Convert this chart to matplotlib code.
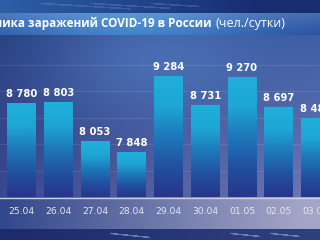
import numpy as np
import matplotlib
matplotlib.use("Agg")
import matplotlib.pyplot as plt
from matplotlib.colors import LinearSegmentedColormap, to_rgb
from matplotlib.patches import Rectangle

# Daily new COVID-19 cases in Russia
dates = ["25.04", "26.04", "27.04", "28.04", "29.04", "30.04", "01.05", "02.05", "03.05"]
cases = [8780, 8803, 8053, 7848, 9284, 8731, 9270, 8697, 8489]
value_labels = ["8 780", "8 803", "8 053", "7 848", "9 284", "8 731", "9 270", "8 697", "8 489"]

title_bold = "Динамика заражений COVID-19 в России"
title_unit = "(чел./сутки)"

W, H = 320, 240
fig = plt.figure(figsize=(W / 100, H / 100), dpi=100)

# ---- background picture ----
def mix(c1, c2, t):
    c1 = np.array(to_rgb(c1)); c2 = np.array(to_rgb(c2))
    return c1 * (1 - t[..., None]) + c2 * t[..., None]

yy, xx = np.mgrid[0:H, 0:W].astype(float)
bg = np.zeros((H, W, 3))

# main chart area
tx = xx / (W - 1)
ty = np.clip((yy - 35) / (197 - 35), 0, 1)
top = mix("#27407e", "#3c5da3", tx)
bot = mix("#3a4890", "#7078b4", tx)
main = top * (1 - ty[..., None]) + bot * ty[..., None]
glow = np.exp(-(((xx - 160) / 110) ** 2 + ((yy - 60) / 60) ** 2))
main = main + glow[..., None] * (np.array(to_rgb("#4f74ba")) - main) * 0.8
bg[:] = main

# title band
band = (yy >= 13) & (yy < 35)
tb = np.exp(-((xx - 130) / 140) ** 2)
band_col = mix("#24499a", "#3f82ca", tb)
vert = np.clip(1 - (yy - 13) / 22, 0, 1)[..., None] * 0.15
band_col = band_col + vert * (1 - band_col)
bg[band] = band_col[band]

# top strip
strip = yy < 13
top_col = mix("#2d5fa8", "#182c70", np.clip(xx / 260, 0, 1))
bg[strip] = top_col[strip]
for x0, x1 in [(40, 130), (90, 170), (150, 200)]:
    seg = strip & (xx >= x0) & (xx < x1) & (np.abs(yy - (3 + (xx - x0) * 0.06)) < 0.8)
    bg[seg] = bg[seg] * 0.75 + np.array(to_rgb("#7fb0e0")) * 0.25

# date label band
lab = (yy >= 197) & (yy < 229)
lab_col = mix("#33478c", "#a3a5c6", np.clip(xx / 300, 0, 1))
bg[lab] = lab_col[lab]

# bottom strip
bs = yy >= 229
bs_col = mix("#1d2a6c", "#30407e", np.clip(xx / W, 0, 1))
bg[bs] = bs_col[bs]
for x0, x1 in [(110, 150), (230, 260), (270, 300)]:
    seg = bs & (xx >= x0) & (xx < x1) & (np.abs(yy - (233 + (xx - x0) * 0.1)) < 0.8)
    bg[seg] = bg[seg] * 0.5 + np.array(to_rgb("#a8c0ee")) * 0.5

bg_ax = fig.add_axes([0, 0, 1, 1])
bg_ax.imshow(np.clip(bg, 0, 1), extent=[0, W, H, 0], aspect="auto", interpolation="bilinear")
bg_ax.set_xlim(0, W); bg_ax.set_ylim(H, 0)
bg_ax.axis("off")

# baseline
bg_ax.plot([0, W], [197.5, 197.5], color="#c9cce2", lw=1.0)

# ---- bar chart ----
step = 36.75
first_center = 21.5
y_base_px, y_top_px = 197, 40
px_per_unit = 76 / 1436
ymin = 7000
ymax = ymin + (y_base_px - y_top_px) / px_per_unit

ax = fig.add_axes([0, (H - y_base_px) / H, 1, (y_base_px - y_top_px) / H])
ax.set_facecolor("none")
ax.axis("off")

for g in [7500, 8000, 8500, 9000, 9500]:
    ax.axhline(g, color="white", alpha=0.10, lw=0.8, zorder=0)

bar_cmap = LinearSegmentedColormap.from_list(
    "bar", ["#27358a", "#2250a0", "#1e78ba", "#1ea6d4", "#20b0da"])
grad = np.linspace(0, 1, 256)[:, None]
width = 29 / step
for i, v in enumerate(cases):
    rect = Rectangle((i - width / 2, ymin), width, v - ymin, facecolor="none", edgecolor="none")
    ax.add_patch(rect)
    im = ax.imshow(grad, cmap=bar_cmap, origin="lower", aspect="auto",
                   extent=[i - width / 2, i + width / 2, ymin, v], zorder=2)
    im.set_clip_path(rect)
    ax.text(i, v + 4 / px_per_unit, value_labels[i], ha="center", va="bottom",
            color="white", fontsize=7.2, fontweight="bold", family="DejaVu Sans", zorder=3)
ax.set_xlim(-first_center / step, (W - first_center) / step)
ax.set_ylim(ymin, ymax)

# date labels
for i, d in enumerate(dates):
    bg_ax.text(first_center + i * step, 211, d, ha="center", va="center",
               color="#e4e6f2", fontsize=6.6, family="DejaVu Sans")

# title
bg_ax.text(211, 23.5, title_bold, ha="right", va="center", color="white",
           fontsize=8.5, fontweight="bold", family="Open Sans")
bg_ax.text(215, 23.5, title_unit, ha="left", va="center", color="white",
           fontsize=9, family="Open Sans")

fig.savefig("out.png", dpi=100)
